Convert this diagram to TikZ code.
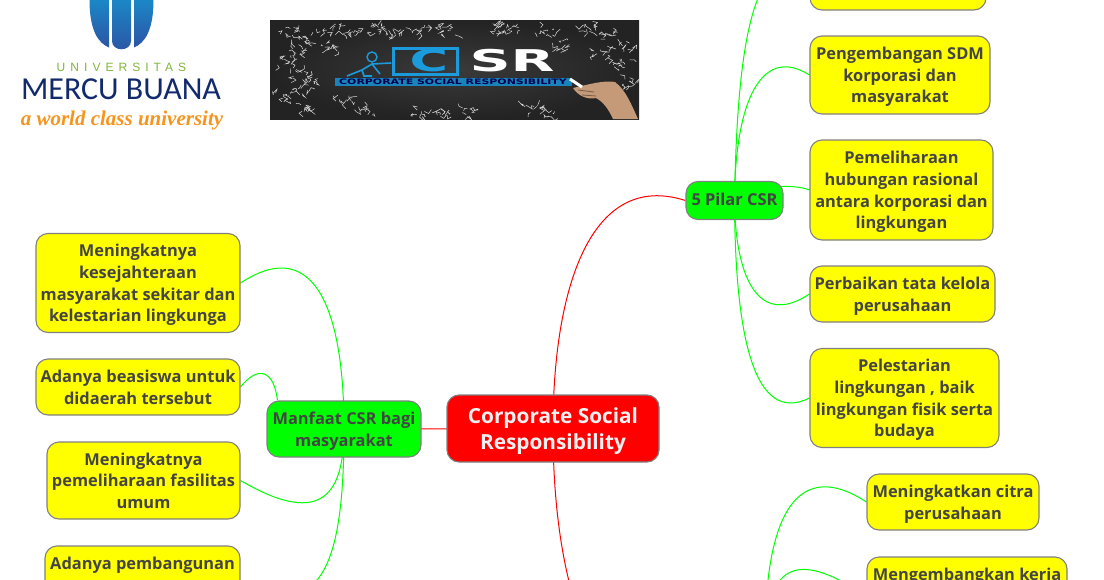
\documentclass[tikz,border=0pt]{standalone}
\usepackage{fontspec}
\setmainfont{Open Sans}
\newfontfamily\logosans[LetterSpace=42]{Liberation Sans}
\newfontfamily\logomain{Carlito}
\newfontfamily\logoscript{Liberation Serif}
\newfontfamily\chalkbold{DejaVu Sans}
\usetikzlibrary{backgrounds}
\definecolor{inktext}{HTML}{444444}
\definecolor{edgegray}{HTML}{808080}
\definecolor{rootred}{RGB}{255,0,0}
\definecolor{branchgreen}{RGB}{0,255,0}
\definecolor{leafyellow}{RGB}{255,255,0}
\definecolor{chalkboard}{HTML}{232323}
\definecolor{boardglow}{HTML}{3A3A3A}
\definecolor{csrblue}{HTML}{1C9BDC}
\definecolor{skin}{HTML}{C49A78}
\definecolor{shieldtop}{HTML}{1B87C6}
\definecolor{shieldlow}{HTML}{2C54A4}
\definecolor{logogreen}{HTML}{7FB539}
\definecolor{logonavy}{HTML}{122A6B}
\definecolor{logoorange}{HTML}{F7941D}
\tikzset{
    box/.style={draw=edgegray, line width=1.1pt, rounded corners=12pt, inner sep=0pt, align=center,
        text=inktext, font=\fontsize{16.4}{21.6}\selectfont\bfseries, text depth=-2.5pt},
    rootbox/.style={box, fill=rootred, text=white!94!black, font=\fontsize{20.8}{26}\selectfont\bfseries},
    branchbox/.style={box, fill=branchgreen},
    leafbox/.style={box, fill=leafyellow},
    redline/.style={draw=rootred, line width=1pt},
    greenline/.style={draw=branchgreen, line width=1pt},
    doodle/.style={draw=white!85!black, line width=.5pt},
    shield/.style={top color=shieldtop, bottom color=shieldlow},
}
\begin{document}
\begin{tikzpicture}[x=1pt, y=-1pt]
    \useasboundingbox (0,0) rectangle (1104,579);
    \clip (0,0) rectangle (1104,579);

    \node[rootbox, minimum width=212pt, minimum height=67pt] (root) at (553,428.5) {Corporate Social\\Responsibility};
    \node[branchbox, minimum width=97pt, minimum height=38pt, text depth=2pt] (pilar) at (734.5,200.5) {5 Pilar CSR};
    \node[branchbox, minimum width=154pt, minimum height=56pt] (manfaat) at (344,429) {Manfaat CSR bagi\\masyarakat};
    \coordinate (citra parent) at (765,640);
    \coordinate (root child) at (767,760);

    \node[leafbox, minimum width=176pt, minimum height=78pt] (top leaf) at (898,-29) {~\\~\\masyarakat};
    \node[leafbox, minimum width=180pt, minimum height=78pt] (sdm) at (900,75) {Pengembangan SDM\\korporasi dan\\masyarakat};
    \node[leafbox, minimum width=183pt, minimum height=100pt] (rasional) at (901.5,190) {Pemeliharaan\\hubungan rasional\\antara korporasi dan\\lingkungan};
    \node[leafbox, minimum width=185pt, minimum height=56pt] (tata) at (902.5,294) {Perbaikan tata kelola\\perusahaan};
    \node[leafbox, minimum width=189pt, minimum height=99pt] (pelestarian) at (904.5,398) {Pelestarian\\lingkungan , baik\\lingkungan fisik serta\\budaya};
    \node[leafbox, minimum width=172pt, minimum height=56pt] (citra) at (953,502) {Meningkatkan citra\\perusahaan};
    \node[leafbox, minimum width=200pt, minimum height=78pt] (kerja) at (967,596) {Mengembangkan kerja\\~\\~};

    \node[leafbox, minimum width=204pt, minimum height=99pt] (sejahtera) at (138,283) {Meningkatnya\\kesejahteraan\\masyarakat sekitar dan\\kelestarian lingkunga};
    \node[leafbox, minimum width=204pt, minimum height=56pt] (beasiswa) at (138,387) {Adanya beasiswa untuk\\didaerah tersebut};
    \node[leafbox, minimum width=193pt, minimum height=77pt] (fasilitas) at (143.5,480.5) {Meningkatnya\\pemeliharaan fasilitas\\umum};
    \node[leafbox, minimum width=195pt, minimum height=78pt] (bangun) at (142.5,585) {Adanya pembangunan\\~\\~};

    \begin{pgfonlayer}{background}
        \clip (0,0) rectangle (1104,579);
        \draw[redline] (root.center) .. controls (553,290) and (590,170) .. (pilar.west);
        \draw[redline] (root.center) -- (manfaat.center);
        \draw[redline] (root.center) .. controls (553,600) and (600,760) .. (root child);
        \draw[greenline] (pilar.center) .. controls (737,60) and (750,-60) .. (top leaf.west);
        \draw[greenline] (pilar.center) .. controls (735,100) and (762,45) .. (sdm.west);
        \draw[greenline] (pilar.center) .. controls (745,188) and (790,182) .. (rasional.west);
        \draw[greenline] (pilar.center) .. controls (735,270) and (755,330) .. (tata.west);
        \draw[greenline] (pilar.center) .. controls (735,340) and (755,425) .. (pelestarian.west);
        \draw[greenline] (citra parent) .. controls (765,490) and (810,465) .. (citra.west);
        \draw[greenline] (citra parent) .. controls (768,560) and (800,552) .. (kerja.west);
        \draw[greenline] (manfaat.center) .. controls (344,300) and (310,237) .. (sejahtera.east);
        \draw[greenline] ([xshift=11pt]manfaat.north west) .. controls (274,370) and (258,365) .. (beasiswa.east);
        \draw[greenline] (manfaat.center) .. controls (344,490) and (325,530) .. (fasilitas.east);
        \draw[greenline] (manfaat.center) .. controls (344,570) and (320,620) .. (bangun.east);
    \end{pgfonlayer}

    % logo
    \shade[shield] (89.5,0) -- (109,0) -- (109,47.5) .. controls (98,43) and (89.5,30) .. (89.5,0) -- cycle;
    \shade[shield] (112,0) -- (131,0) -- (131,41) .. controls (131,52) and (112,52) .. (112,41) -- cycle;
    \shade[shield] (153.5,0) -- (134,0) -- (134,47.5) .. controls (145,43) and (153.5,30) .. (153.5,0) -- cycle;
    \node[text=logogreen, font=\logosans\fontsize{12}{12}\selectfont] (logo top) at (121.5,67) {UNIVERSITAS};
    \node[text=logonavy, font=\logomain\fontsize{32}{32}\selectfont] (logo name) at (121,89.5) {MERCU BUANA};
    \node[text=logoorange, font=\logoscript\itshape\bfseries\fontsize{21}{21}\selectfont] (logo motto) at (122,120) {a world class university};

    % csr picture
    \begin{scope}
        \clip (270,20) rectangle (639,119);
        \shade[inner color=boardglow, outer color=chalkboard] (270,20) rectangle (639,119);
        \pgfmathsetseed{11}
        \foreach \cx/\cy in {288/31,302/40,330/32,350/30,372/29,395/33,420/30,445/31,500/30,510/28,545/32,560/45,590/28,610/35,625/48,
            285/62,300/50,332/47,300/74,312/81,600/55,622/62,628/82,282/98,300/90,310/108,345/100,365/112,415/112,445/112,470/112,530/108,550/112} {
            \foreach \i in {1,...,9} {
                \pgfmathsetmacro{\ax}{\cx+rand*10}
                \pgfmathsetmacro{\ay}{\cy+rand*5}
                \pgfmathsetmacro{\bx}{\ax+rand*5}
                \pgfmathsetmacro{\by}{\ay+rand*4}
                \pgfmathsetmacro{\ex}{\bx+rand*5}
                \pgfmathsetmacro{\ey}{\by+rand*4}
                \draw[doodle] (\ax,\ay) -- (\bx,\by) -- (\ex,\ey);
            }
        }
        % boxed letter and pusher
        \draw[csrblue, line width=3pt] (393.5,48.5) rectangle (457,74);
        \node[text=csrblue, font=\chalkbold\bfseries\fontsize{30}{30}\selectfont, inner sep=0pt] (letter c) at (429,61) {\scalebox{1.75}[1]{C}};
        \node[text=white, font=\chalkbold\bfseries\fontsize{30}{30}\selectfont, inner sep=0pt] (letters sr) at (512,61) {\scalebox{1.9}[1]{SR}};
        \draw[csrblue, line width=1.4pt] (372,57) circle (5pt);
        \draw[csrblue, line width=1.6pt] (391,63) -- (372,64) -- (362,70) -- (347,76) (372,64) -- (380,74) (362,70) -- (364,76) -- (372,76);
        \fill[csrblue!85!black] (335,78) rectangle (572,86);
        \node[text=blue!30!black, font=\chalkbold\bfseries\fontsize{7.5}{8}\selectfont, inner sep=0pt] (band text) at (453,82) {\scalebox{1.46}[1]{CORPORATE SOCIAL RESPONSIBILITY}};
        % hand with chalk
        \fill[skin] (573,88) .. controls (590,84) and (605,80) .. (615,82) .. controls (626,90) and (632,106) .. (638,119) -- (613,119) .. controls (608,108) and (603,102) .. (596,98) .. controls (588,100) and (578,96) .. (573,88) -- cycle;
        \draw[skin!60!black, line width=.8pt] (578,90) -- (594,92) (582,95) -- (596,96);
        \draw[white, line width=3pt] (570,79) -- (582,87);
    \end{scope}
\end{tikzpicture}
\end{document}
